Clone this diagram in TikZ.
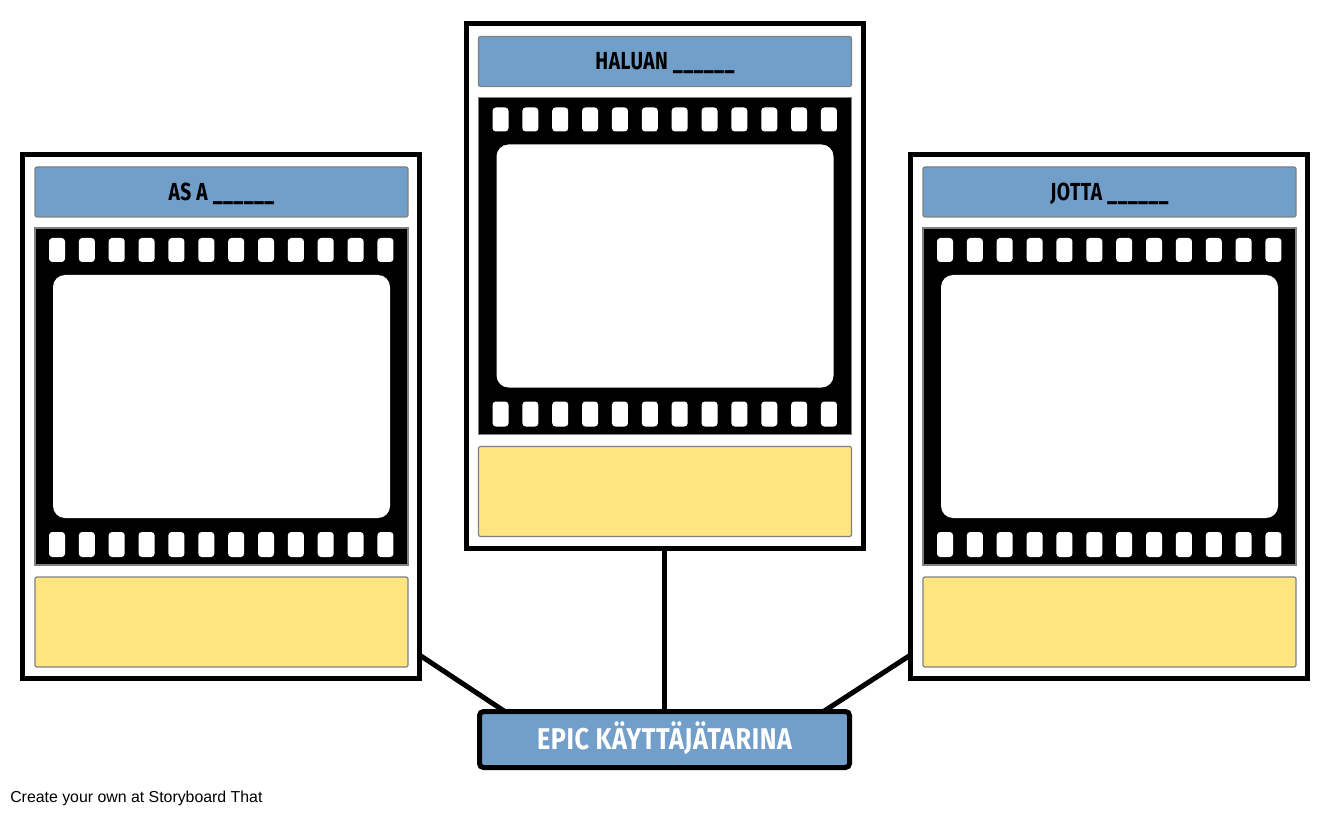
\documentclass[tikz,border=0pt]{standalone}
\usepackage{fontspec}
\setmainfont{Liberation Sans}
\newfontfamily\headfont[FakeStretch=0.78,LetterSpace=2]{Fira Sans}
\newfontfamily\epicfont[FakeStretch=0.84,LetterSpace=2]{Fira Sans}
\usepackage{tikz}
\usetikzlibrary{positioning}
\definecolor{barblue}{RGB}{114, 159, 202}
\definecolor{noteyellow}{RGB}{255, 229, 127}
\definecolor{edgegray}{RGB}{128, 128, 128}
\tikzset{
	cardframe/.style={draw=black,line width=3.75pt,fill=white,outer sep=0pt,inner sep=0pt},
	titlebar/.style={draw=edgegray,line width=0.9pt,fill=barblue,rounded corners=1.5pt,
		minimum width=279.75pt,minimum height=37.5pt,inner sep=0pt,
		font=\headfont\bfseries\fontsize{18.5}{20}\selectfont,text height=12.75pt,text depth=0pt},
	filmstrip/.style={draw=edgegray,line width=0.9pt,fill=black,
		minimum width=279.75pt,minimum height=252.75pt,inner sep=0pt},
	window/.style={fill=white,rounded corners=9pt,minimum width=252.75pt,minimum height=182.25pt,inner sep=0pt},
	hole/.style={fill=white,rounded corners=2.5pt},
	notebox/.style={draw=edgegray,line width=0.9pt,fill=noteyellow,rounded corners=1.5pt,
		minimum width=279.75pt,minimum height=67.5pt,inner sep=0pt},
}
\begin{document}
\begin{tikzpicture}[x=0.75pt,y=-0.75pt,
		link/.style={line width=3.75pt,black},
		epicbox/.style={draw=black,line width=3.75pt,fill=barblue,rounded corners=3pt,outer sep=0pt,
			minimum width=277.5pt,minimum height=42pt,inner sep=0pt,text=white,
			font=\epicfont\bfseries\fontsize{22.5}{24}\selectfont,text height=15.5pt,text depth=0pt}]
	\useasboundingbox (0,0) rectangle (1333,816);
	\foreach \nm/\dx/\dy/\ttl in {left/0/0/{AS A \_\_\_\_\_\_},mid/443.5/-130.5/{HALUAN \_\_\_\_\_\_},right/888/0/{JOTTA \_\_\_\_\_\_}}{
		\node[cardframe,minimum width=297.75pt,minimum height=393pt] (\nm) at (\dx+221,\dy+416.5) {};
		\node[titlebar] (\nm-title) at (\dx+221.5,\dy+192) {\ttl};
		\node[filmstrip] (\nm-film) at (\dx+221.5,\dy+396.5) {};
		\node[window] (\nm-window) at (\dx+221.5,\dy+396.5) {};
		\foreach \i in {0,...,11}{
			\fill[hole] (\dx+49+\i*29.86,\dy+238) rectangle ++(16,24);
			\fill[hole] (\dx+49+\i*29.86,\dy+532) rectangle ++(16,25);
		}
		\node[notebox] (\nm-note) at (\dx+221.5,\dy+622) {};
	}
	\node[epicbox] (epic) at (664.5,739.5) {EPIC KÄYTTÄJÄTARINA};
	% connectors
	\draw[link] ([yshift=17.6pt]left.south east) -- ([xshift=19pt]epic.north west);
	\draw[link] (mid.south) -- (mid.south |- epic.north);
	\draw[link] ([yshift=17.6pt]right.south west) -- ([xshift=-19.5pt]epic.north east);
	\node[anchor=base west,inner sep=0pt,font=\fontsize{11.9}{14}\selectfont] (credit) at (10,802) {Create your own at Storyboard That};
\end{tikzpicture}
\end{document}
